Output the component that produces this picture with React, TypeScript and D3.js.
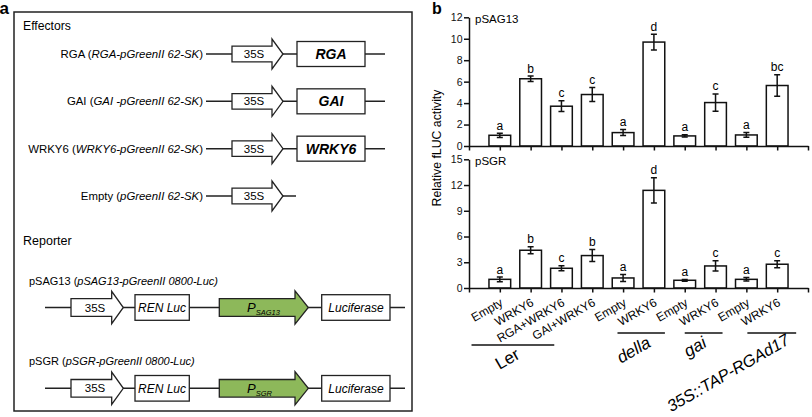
import React, { useEffect, useRef } from 'react';
import * as d3 from 'd3';

// Panel a: constructs
const effectorNames = ['RGA', 'GAI', 'WRKY6', 'Empty'];
const effectorVectors = ['RGA-pGreenII 62-SK', 'GAI -pGreenII 62-SK', 'WRKY6-pGreenII 62-SK', 'pGreenII 62-SK'];
const effectorGenes = ['RGA', 'GAI', 'WRKY6', ''];
const reporterNames = ['pSAG13', 'pSGR'];
const reporterVectors = ['pSAG13-pGreenII 0800-Luc', 'pSGR-pGreenII 0800-Luc'];
const reporterPromoters = ['SAG13', 'SGR'];

// Panel b: relative fLUC activity
const conditions = ['Empty', 'WRKY6', 'RGA+WRKY6', 'GAI+WRKY6', 'Empty', 'WRKY6', 'Empty', 'WRKY6', 'Empty', 'WRKY6'];
const sag13Means = [1.0, 6.27, 3.71, 4.8, 1.25, 9.69, 0.94, 4.05, 1.03, 5.64];
const sag13Errors = [0.2, 0.25, 0.5, 0.65, 0.28, 0.73, 0.1, 0.8, 0.22, 1.0];
const sag13Letters = ['a', 'b', 'c', 'c', 'a', 'd', 'a', 'c', 'a', 'bc'];
const sgrMeans = [1.01, 4.4, 2.3, 3.78, 1.17, 11.38, 0.9, 2.57, 1.01, 2.77];
const sgrErrors = [0.27, 0.4, 0.3, 0.7, 0.4, 1.46, 0.1, 0.6, 0.2, 0.4];
const sgrLetters = ['a', 'b', 'c', 'b', 'a', 'd', 'a', 'c', 'a', 'c'];
const genotypes = ['Ler', 'della', 'gai', '35S::TAP-RGAd17'];
const genotypeFirst = [0, 4, 6, 8];
const genotypeLast = [3, 5, 7, 9];

const FONT = '"Liberation Sans", Arial, Helvetica, sans-serif';
const GREEN = '#8db85a';

// arrow outline: body then head
const arrowPath = (x0: number, body: number, head: number, cy: number, bh: number, hh: number) =>
  `M${x0},${cy - bh}L${x0 + body},${cy - bh}L${x0 + body},${cy - hh}L${x0 + body + head},${cy}` +
  `L${x0 + body},${cy + hh}L${x0 + body},${cy + bh}L${x0},${cy + bh}Z`;

const App: React.FC = () => {
  const svgRef = useRef<SVGSVGElement>(null);

  useEffect(() => {
    if (!svgRef.current) return;
    const svg = d3.select(svgRef.current);
    svg.selectAll('*').remove();
    svg.attr('font-family', FONT);

    // ---------- panel a ----------
    const a = svg.append('g');
    a.append('text').attr('x', -0.5).attr('y', 13.5).attr('font-size', 17).attr('font-weight', 'bold').text('a');
    a.append('rect')
      .attr('x', 14).attr('y', 12).attr('width', 398).attr('height', 399)
      .attr('fill', 'none').attr('stroke', '#222').attr('stroke-width', 1.5);

    a.append('text').attr('x', 23).attr('y', 30).attr('font-size', 12.2).text('Effectors');

    const effY = d3.scalePoint<string>().domain(effectorNames).range([54, 196]);
    effectorNames.forEach((name, i) => {
      const cy = effY(name)!;
      const g = a.append('g');
      const t = g.append('text').attr('x', 203).attr('y', cy + 4).attr('font-size', 11.4).attr('text-anchor', 'end');
      t.append('tspan').text(`${name} (`);
      t.append('tspan').attr('font-style', 'italic').text(effectorVectors[i]);
      t.append('tspan').text(')');

      const lineEnd = effectorGenes[i] ? 385 : 296;
      g.append('line').attr('x1', 206).attr('x2', lineEnd).attr('y1', cy).attr('y2', cy)
        .attr('stroke', '#222').attr('stroke-width', 1.5);
      g.append('path').attr('d', arrowPath(232, 40, 11, cy, 7.8, 15))
        .attr('fill', '#fff').attr('stroke', '#222').attr('stroke-width', 1.3);
      g.append('text').attr('x', 254).attr('y', cy + 4).attr('text-anchor', 'middle').attr('font-size', 11.5).text('35S');
      if (effectorGenes[i]) {
        g.append('rect').attr('x', 297).attr('y', cy - 12.5).attr('width', 68).attr('height', 25)
          .attr('fill', '#fff').attr('stroke', '#222').attr('stroke-width', 1.3);
        g.append('text').attr('x', 331).attr('y', cy + 5).attr('text-anchor', 'middle')
          .attr('font-size', 14).attr('font-weight', 'bold').attr('font-style', 'italic').text(effectorGenes[i]);
      }
    });

    a.append('text').attr('x', 23).attr('y', 245).attr('font-size', 12.5).text('Reporter');

    const repY = d3.scalePoint<string>().domain(reporterNames).range([307.5, 388.3]);
    reporterNames.forEach((name, i) => {
      const cy = repY(name)!;
      const g = a.append('g');
      const t = g.append('text').attr('x', 29).attr('y', cy - 23).attr('font-size', 11);
      t.append('tspan').text(`${name} (`);
      t.append('tspan').attr('font-style', 'italic').text(`${reporterVectors[i]})`);

      g.append('line').attr('x1', 45).attr('x2', 405).attr('y1', cy).attr('y2', cy)
        .attr('stroke', '#222').attr('stroke-width', 1.5);
      g.append('path').attr('d', arrowPath(71, 40.7, 11.6, cy, 8.8, 16.2))
        .attr('fill', '#fff').attr('stroke', '#222').attr('stroke-width', 1.3);
      g.append('text').attr('x', 95).attr('y', cy + 4).attr('text-anchor', 'middle').attr('font-size', 11.5).text('35S');

      g.append('rect').attr('x', 135).attr('y', cy - 12.8).attr('width', 54.3).attr('height', 25.6)
        .attr('fill', '#fff').attr('stroke', '#222').attr('stroke-width', 1.3);
      g.append('text').attr('x', 162).attr('y', cy + 4.5).attr('text-anchor', 'middle')
        .attr('font-size', 12).attr('font-style', 'italic').text('REN Luc');

      g.append('path').attr('d', arrowPath(219.3, 75.7, 13.3, cy, 8.8, 16.6))
        .attr('fill', GREEN).attr('stroke', '#222').attr('stroke-width', 1.3);
      const p = g.append('text').attr('x', 247).attr('y', cy + 4.5).attr('font-style', 'italic');
      p.append('tspan').attr('font-size', 13).text('P');
      p.append('tspan').attr('font-size', 7.5).attr('dy', 3).text(reporterPromoters[i]);

      g.append('rect').attr('x', 321.7).attr('y', cy - 12.8).attr('width', 68.3).attr('height', 25.6)
        .attr('fill', '#fff').attr('stroke', '#222').attr('stroke-width', 1.3);
      g.append('text').attr('x', 356).attr('y', cy + 4.5).attr('text-anchor', 'middle')
        .attr('font-size', 12).attr('font-style', 'italic').text('Luciferase');
    });

    // ---------- panel b ----------
    const b = svg.append('g');
    b.append('text').attr('x', 432).attr('y', 14).attr('font-size', 16).attr('font-weight', 'bold').text('b');

    const tickX = d3.scaleLinear().domain([0, conditions.length + 1]).range([469, 808]);
    const barX = (i: number) => tickX(i + 1);
    const barW = 21.7;

    const panels = [
      { name: 'pSAG13', means: sag13Means, errs: sag13Errors, letters: sag13Letters, max: 12, step: 2, range: [146, 17.3] },
      { name: 'pSGR', means: sgrMeans, errs: sgrErrors, letters: sgrLetters, max: 15, step: 3, range: [288, 159.3] },
    ];

    panels.forEach((pn) => {
      const y = d3.scaleLinear().domain([0, pn.max]).range(pn.range);
      const g = b.append('g');

      // bars
      pn.means.forEach((m, i) => {
        g.append('rect')
          .attr('x', barX(i) - barW / 2).attr('y', y(m))
          .attr('width', barW).attr('height', y(0) - y(m))
          .attr('fill', '#fff').attr('stroke', '#111').attr('stroke-width', 1.5);
        const lo = y(m - pn.errs[i]);
        const hi = y(m + pn.errs[i]);
        g.append('path')
          .attr('d', `M${barX(i)},${lo}V${hi}M${barX(i) - 3},${lo}H${barX(i) + 3}M${barX(i) - 3},${hi}H${barX(i) + 3}`)
          .attr('fill', 'none').attr('stroke', '#111').attr('stroke-width', 1.5);
        g.append('text')
          .attr('x', barX(i)).attr('y', hi - 3.5)
          .attr('text-anchor', 'middle').attr('font-size', 12).text(pn.letters[i]);
      });

      // axes
      const yAxis = g.append('g')
        .attr('transform', `translate(${tickX(0)},0)`)
        .call(d3.axisLeft(y).tickValues(d3.range(0, pn.max + 1, pn.step)).tickSize(5).tickPadding(1.5).tickSizeOuter(0));
      const xAxis = g.append('g')
        .attr('transform', `translate(0,${y(0)})`)
        .call(d3.axisBottom(tickX).ticks(conditions.length + 1).tickSize(4.5).tickSizeOuter(0).tickFormat(() => ''));
      [yAxis, xAxis].forEach((ax) => {
        ax.attr('font-family', FONT).attr('font-size', 10.5);
        ax.selectAll('path, line').attr('stroke', '#111').attr('stroke-width', 1.5);
        ax.selectAll('text').attr('fill', '#111');
      });

      g.append('text').attr('x', 475).attr('y', pn.range[1] + 6).attr('font-size', 11.5).text(pn.name);
    });

    // y label
    b.append('text')
      .attr('transform', 'translate(441,148) rotate(-90)')
      .attr('text-anchor', 'middle').attr('font-size', 12.3).text('Relative fLUC activity');

    // condition labels
    conditions.forEach((c, i) => {
      b.append('text')
        .attr('transform', `translate(${barX(i) + 4},305) rotate(-30)`)
        .attr('text-anchor', 'end').attr('font-size', 12).text(c);
    });

    // genotype groups
    const groupLine = [[-28.3, -38], [-5.6, 11], [0, 7], [1, 19]];
    const groupY = [345, 333, 333, 333];
    const groupLabel = [[-5, 15], [-7, 18], [-8, 15], [-43, 41]];
    genotypes.forEach((gt, k) => {
      const x1 = barX(genotypeFirst[k]) + groupLine[k][0];
      const x2 = barX(genotypeLast[k]) + groupLine[k][1];
      b.append('line').attr('x1', x1).attr('x2', x2).attr('y1', groupY[k]).attr('y2', groupY[k])
        .attr('stroke', '#111').attr('stroke-width', 1.5);
      const cx = (x1 + x2) / 2 + groupLabel[k][0];
      const cy = groupY[k] + groupLabel[k][1];
      b.append('text')
        .attr('transform', `translate(${cx},${cy}) rotate(-30)`)
        .attr('text-anchor', 'middle').attr('dominant-baseline', 'middle')
        .attr('font-size', k === 3 ? 16.5 : 17).attr('font-style', k === 0 ? 'normal' : 'italic').text(gt);
    });
  }, []);

  return (
    <svg
      ref={svgRef}
      width={812}
      height={417}
      style={{ position: 'absolute', left: 0, top: 0, background: '#fff' }}
    />
  );
};

export default App;
